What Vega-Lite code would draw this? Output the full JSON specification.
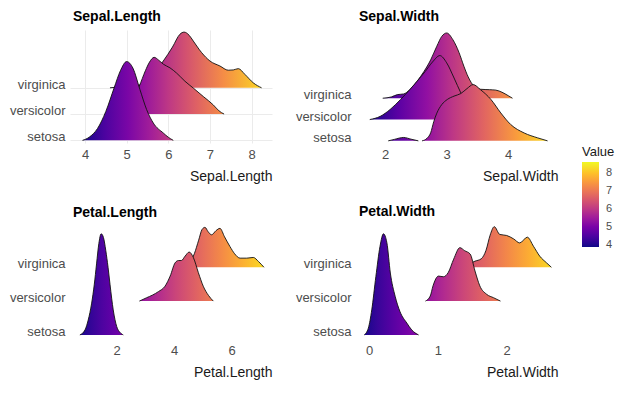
{
  "$schema": "https://vega.github.io/schema/vega-lite/v6.json",
  "background": "white",
  "padding": {"left": 9, "top": 10, "right": 5, "bottom": 5},
  "data": {"values": [
    {"v":"SL","s":"setosa","x":3.94,"y":1},{"v":"SL","s":"setosa","x":4.1,"y":1.12},{"v":"SL","s":"setosa","x":4.3,"y":1.45},{"v":"SL","s":"setosa","x":4.5,"y":2.1},{"v":"SL","s":"setosa","x":4.7,"y":3.0},{"v":"SL","s":"setosa","x":4.85,"y":3.65},{"v":"SL","s":"setosa","x":5.0,"y":4.0},{"v":"SL","s":"setosa","x":5.15,"y":3.75},{"v":"SL","s":"setosa","x":5.32,"y":2.93},{"v":"SL","s":"setosa","x":5.48,"y":2.17},{"v":"SL","s":"setosa","x":5.64,"y":1.66},{"v":"SL","s":"setosa","x":5.88,"y":1.28},{"v":"SL","s":"setosa","x":6.0,"y":1.12},{"v":"SL","s":"setosa","x":6.12,"y":1.0},
    {"v":"SL","s":"versicolor","x":4.7,"y":2},{"v":"SL","s":"versicolor","x":4.9,"y":2.15},{"v":"SL","s":"versicolor","x":5.1,"y":2.5},{"v":"SL","s":"versicolor","x":5.3,"y":3.05},{"v":"SL","s":"versicolor","x":5.45,"y":3.65},{"v":"SL","s":"versicolor","x":5.55,"y":3.98},{"v":"SL","s":"versicolor","x":5.66,"y":4.16},{"v":"SL","s":"versicolor","x":5.77,"y":4.05},{"v":"SL","s":"versicolor","x":5.88,"y":3.9},{"v":"SL","s":"versicolor","x":6.04,"y":3.76},{"v":"SL","s":"versicolor","x":6.2,"y":3.56},{"v":"SL","s":"versicolor","x":6.4,"y":3.25},{"v":"SL","s":"versicolor","x":6.6,"y":2.99},{"v":"SL","s":"versicolor","x":6.84,"y":2.67},{"v":"SL","s":"versicolor","x":7.08,"y":2.35},{"v":"SL","s":"versicolor","x":7.22,"y":2.12},{"v":"SL","s":"versicolor","x":7.34,"y":2.0},
    {"v":"SL","s":"virginica","x":4.6,"y":3},{"v":"SL","s":"virginica","x":4.8,"y":3.03},{"v":"SL","s":"virginica","x":4.95,"y":3.05},{"v":"SL","s":"virginica","x":5.15,"y":3.05},{"v":"SL","s":"virginica","x":5.3,"y":3.1},{"v":"SL","s":"virginica","x":5.5,"y":3.3},{"v":"SL","s":"virginica","x":5.7,"y":3.65},{"v":"SL","s":"virginica","x":5.88,"y":4.02},{"v":"SL","s":"virginica","x":6.1,"y":4.55},{"v":"SL","s":"virginica","x":6.28,"y":5.04},{"v":"SL","s":"virginica","x":6.38,"y":5.12},{"v":"SL","s":"virginica","x":6.5,"y":5.0},{"v":"SL","s":"virginica","x":6.6,"y":4.78},{"v":"SL","s":"virginica","x":6.8,"y":4.34},{"v":"SL","s":"virginica","x":7.0,"y":4.02},{"v":"SL","s":"virginica","x":7.24,"y":3.83},{"v":"SL","s":"virginica","x":7.44,"y":3.67},{"v":"SL","s":"virginica","x":7.56,"y":3.68},{"v":"SL","s":"virginica","x":7.68,"y":3.73},{"v":"SL","s":"virginica","x":7.84,"y":3.51},{"v":"SL","s":"virginica","x":8.04,"y":3.19},{"v":"SL","s":"virginica","x":8.24,"y":3.0},
    {"v":"SW","s":"virginica","x":1.96,"y":3},{"v":"SW","s":"virginica","x":2.1,"y":3.06},{"v":"SW","s":"virginica","x":2.2,"y":3.17},{"v":"SW","s":"virginica","x":2.3,"y":3.2},{"v":"SW","s":"virginica","x":2.4,"y":3.4},{"v":"SW","s":"virginica","x":2.52,"y":3.8},{"v":"SW","s":"virginica","x":2.63,"y":4.25},{"v":"SW","s":"virginica","x":2.74,"y":4.8},{"v":"SW","s":"virginica","x":2.84,"y":5.44},{"v":"SW","s":"virginica","x":2.92,"y":5.9},{"v":"SW","s":"virginica","x":3.0,"y":6.06},{"v":"SW","s":"virginica","x":3.1,"y":5.75},{"v":"SW","s":"virginica","x":3.2,"y":5.15},{"v":"SW","s":"virginica","x":3.28,"y":4.5},{"v":"SW","s":"virginica","x":3.35,"y":4.0},{"v":"SW","s":"virginica","x":3.45,"y":3.55},{"v":"SW","s":"virginica","x":3.55,"y":3.42},{"v":"SW","s":"virginica","x":3.7,"y":3.4},{"v":"SW","s":"virginica","x":3.8,"y":3.38},{"v":"SW","s":"virginica","x":3.9,"y":3.28},{"v":"SW","s":"virginica","x":4.0,"y":3.12},{"v":"SW","s":"virginica","x":4.07,"y":3.0},
    {"v":"SW","s":"versicolor","x":1.75,"y":2},{"v":"SW","s":"versicolor","x":1.92,"y":2.15},{"v":"SW","s":"versicolor","x":2.08,"y":2.47},{"v":"SW","s":"versicolor","x":2.25,"y":2.94},{"v":"SW","s":"versicolor","x":2.4,"y":3.4},{"v":"SW","s":"versicolor","x":2.52,"y":3.8},{"v":"SW","s":"versicolor","x":2.65,"y":4.25},{"v":"SW","s":"versicolor","x":2.77,"y":4.7},{"v":"SW","s":"versicolor","x":2.89,"y":5.0},{"v":"SW","s":"versicolor","x":3.0,"y":4.66},{"v":"SW","s":"versicolor","x":3.12,"y":3.95},{"v":"SW","s":"versicolor","x":3.23,"y":3.25},{"v":"SW","s":"versicolor","x":3.35,"y":2.6},{"v":"SW","s":"versicolor","x":3.45,"y":2.25},{"v":"SW","s":"versicolor","x":3.55,"y":2.05},{"v":"SW","s":"versicolor","x":3.62,"y":2.0},
    {"v":"SW","s":"setosa","x":2.05,"y":1},{"v":"SW","s":"setosa","x":2.15,"y":1.07},{"v":"SW","s":"setosa","x":2.3,"y":1.16},{"v":"SW","s":"setosa","x":2.42,"y":1.08},{"v":"SW","s":"setosa","x":2.54,"y":1.0},
    {"v":"SW","s":"setosa","x":2.6,"y":1},{"v":"SW","s":"setosa","x":2.68,"y":1.12},{"v":"SW","s":"setosa","x":2.74,"y":1.38},{"v":"SW","s":"setosa","x":2.79,"y":1.9},{"v":"SW","s":"setosa","x":2.84,"y":2.3},{"v":"SW","s":"setosa","x":2.92,"y":2.7},{"v":"SW","s":"setosa","x":3.01,"y":2.94},{"v":"SW","s":"setosa","x":3.12,"y":3.1},{"v":"SW","s":"setosa","x":3.23,"y":3.22},{"v":"SW","s":"setosa","x":3.33,"y":3.45},{"v":"SW","s":"setosa","x":3.43,"y":3.64},{"v":"SW","s":"setosa","x":3.55,"y":3.4},{"v":"SW","s":"setosa","x":3.72,"y":2.94},{"v":"SW","s":"setosa","x":3.88,"y":2.31},{"v":"SW","s":"setosa","x":4.04,"y":1.77},{"v":"SW","s":"setosa","x":4.26,"y":1.37},{"v":"SW","s":"setosa","x":4.48,"y":1.14},{"v":"SW","s":"setosa","x":4.64,"y":1.0},
    {"v":"PL","s":"setosa","x":0.72,"y":1},{"v":"PL","s":"setosa","x":0.9,"y":1.15},{"v":"PL","s":"setosa","x":1.01,"y":1.44},{"v":"PL","s":"setosa","x":1.13,"y":1.94},{"v":"PL","s":"setosa","x":1.22,"y":2.48},{"v":"PL","s":"setosa","x":1.3,"y":3.1},{"v":"PL","s":"setosa","x":1.38,"y":3.7},{"v":"PL","s":"setosa","x":1.46,"y":3.99},{"v":"PL","s":"setosa","x":1.54,"y":3.88},{"v":"PL","s":"setosa","x":1.62,"y":3.5},{"v":"PL","s":"setosa","x":1.7,"y":3.0},{"v":"PL","s":"setosa","x":1.77,"y":2.48},{"v":"PL","s":"setosa","x":1.88,"y":1.74},{"v":"PL","s":"setosa","x":2.0,"y":1.25},{"v":"PL","s":"setosa","x":2.12,"y":1.07},{"v":"PL","s":"setosa","x":2.23,"y":1.0},
    {"v":"PL","s":"versicolor","x":2.79,"y":2},{"v":"PL","s":"versicolor","x":3.04,"y":2.1},{"v":"PL","s":"versicolor","x":3.25,"y":2.18},{"v":"PL","s":"versicolor","x":3.45,"y":2.28},{"v":"PL","s":"versicolor","x":3.68,"y":2.44},{"v":"PL","s":"versicolor","x":3.86,"y":2.74},{"v":"PL","s":"versicolor","x":4.03,"y":3.13},{"v":"PL","s":"versicolor","x":4.15,"y":3.2},{"v":"PL","s":"versicolor","x":4.25,"y":3.2},{"v":"PL","s":"versicolor","x":4.38,"y":3.33},{"v":"PL","s":"versicolor","x":4.52,"y":3.45},{"v":"PL","s":"versicolor","x":4.67,"y":3.28},{"v":"PL","s":"versicolor","x":4.84,"y":2.84},{"v":"PL","s":"versicolor","x":5.01,"y":2.44},{"v":"PL","s":"versicolor","x":5.19,"y":2.17},{"v":"PL","s":"versicolor","x":5.36,"y":2.0},
    {"v":"PL","s":"virginica","x":4.3,"y":3},{"v":"PL","s":"virginica","x":4.5,"y":3.1},{"v":"PL","s":"virginica","x":4.7,"y":3.4},{"v":"PL","s":"virginica","x":4.85,"y":3.8},{"v":"PL","s":"virginica","x":4.97,"y":4.12},{"v":"PL","s":"virginica","x":5.07,"y":4.18},{"v":"PL","s":"virginica","x":5.18,"y":4.05},{"v":"PL","s":"virginica","x":5.3,"y":3.96},{"v":"PL","s":"virginica","x":5.45,"y":4.08},{"v":"PL","s":"virginica","x":5.59,"y":4.15},{"v":"PL","s":"virginica","x":5.75,"y":3.9},{"v":"PL","s":"virginica","x":5.94,"y":3.61},{"v":"PL","s":"virginica","x":6.1,"y":3.4},{"v":"PL","s":"virginica","x":6.29,"y":3.27},{"v":"PL","s":"virginica","x":6.52,"y":3.27},{"v":"PL","s":"virginica","x":6.75,"y":3.29},{"v":"PL","s":"virginica","x":6.93,"y":3.17},{"v":"PL","s":"virginica","x":7.12,"y":3.0},
    {"v":"PW","s":"setosa","x":-0.07,"y":1},{"v":"PW","s":"setosa","x":-0.01,"y":1.2},{"v":"PW","s":"setosa","x":0.04,"y":1.74},{"v":"PW","s":"setosa","x":0.1,"y":2.73},{"v":"PW","s":"setosa","x":0.16,"y":3.62},{"v":"PW","s":"setosa","x":0.21,"y":3.99},{"v":"PW","s":"setosa","x":0.26,"y":3.72},{"v":"PW","s":"setosa","x":0.31,"y":2.83},{"v":"PW","s":"setosa","x":0.38,"y":2.14},{"v":"PW","s":"setosa","x":0.45,"y":1.69},{"v":"PW","s":"setosa","x":0.55,"y":1.35},{"v":"PW","s":"setosa","x":0.62,"y":1.15},{"v":"PW","s":"setosa","x":0.72,"y":1.0},
    {"v":"PW","s":"versicolor","x":0.82,"y":2},{"v":"PW","s":"versicolor","x":0.89,"y":2.15},{"v":"PW","s":"versicolor","x":0.93,"y":2.45},{"v":"PW","s":"versicolor","x":1.01,"y":2.74},{"v":"PW","s":"versicolor","x":1.08,"y":2.72},{"v":"PW","s":"versicolor","x":1.15,"y":2.84},{"v":"PW","s":"versicolor","x":1.23,"y":3.24},{"v":"PW","s":"versicolor","x":1.32,"y":3.58},{"v":"PW","s":"versicolor","x":1.39,"y":3.49},{"v":"PW","s":"versicolor","x":1.47,"y":3.39},{"v":"PW","s":"versicolor","x":1.54,"y":2.89},{"v":"PW","s":"versicolor","x":1.61,"y":2.45},{"v":"PW","s":"versicolor","x":1.71,"y":2.2},{"v":"PW","s":"versicolor","x":1.81,"y":2.1},{"v":"PW","s":"versicolor","x":1.91,"y":2.0},
    {"v":"PW","s":"virginica","x":1.35,"y":3},{"v":"PW","s":"virginica","x":1.45,"y":3.1},{"v":"PW","s":"virginica","x":1.54,"y":3.18},{"v":"PW","s":"virginica","x":1.63,"y":3.25},{"v":"PW","s":"virginica","x":1.7,"y":3.5},{"v":"PW","s":"virginica","x":1.76,"y":3.95},{"v":"PW","s":"virginica","x":1.82,"y":4.2},{"v":"PW","s":"virginica","x":1.9,"y":3.97},{"v":"PW","s":"virginica","x":2.0,"y":3.94},{"v":"PW","s":"virginica","x":2.1,"y":3.84},{"v":"PW","s":"virginica","x":2.19,"y":3.72},{"v":"PW","s":"virginica","x":2.3,"y":3.89},{"v":"PW","s":"virginica","x":2.39,"y":3.62},{"v":"PW","s":"virginica","x":2.48,"y":3.33},{"v":"PW","s":"virginica","x":2.58,"y":3.13},{"v":"PW","s":"virginica","x":2.65,"y":3.0}
  ]},
  "columns": 2,
  "spacing": {"row": 20, "column": 23},
  "resolve": {"scale": {"color": "shared"}, "legend": {"color": "shared"}},
  "concat": [
    {
      "width": 202, "height": 113,
      "title": {"text": "Sepal.Length"},
      "encoding": {
        "x": {"field": "x", "type": "quantitative", "scale": {"domain": [3.64, 8.49], "nice": false, "zero": false}, "axis": {"values": [4,5,6,7,8], "title": "Sepal.Length", "grid": true}},
        "y": {"field": "y", "type": "quantitative", "scale": {"domain": [0.9, 5.2], "nice": false, "zero": false}, "axis": {"values": [1,2,3], "grid": true, "title": null, "labelExpr": "datum.value === 1 ? 'setosa' : datum.value === 2 ? 'versicolor' : 'virginica'"}}
      },
      "layer": [
        {"transform": [{"filter": "datum.v === 'SL' && datum.s === 'virginica'"}], "mark": {"type": "area", "interpolate": "monotone", "opacity": 1, "fillOpacity": 1, "fill": {"gradient": "linear", "x1": 0, "y1": 0, "x2": 1, "y2": 0, "stops": [{"offset": 0, "color": "rgb(87,2,163)"}, {"offset": 0.25, "color": "rgb(158,26,155)"}, {"offset": 0.5, "color": "rgb(211,81,112)"}, {"offset": 0.75, "color": "rgb(245,141,70)"}, {"offset": 1, "color": "rgb(250,213,36)"}]}, "line": {"color": "#111111", "strokeWidth": 0.9, "interpolate": "monotone", "opacity": 1}}, "encoding": {"y2": {"datum": 3}}},
        {"transform": [{"filter": "datum.v === 'SL' && datum.s === 'versicolor'"}], "mark": {"type": "area", "interpolate": "monotone", "opacity": 1, "fillOpacity": 1, "fill": {"gradient": "linear", "x1": 0, "y1": 0, "x2": 1, "y2": 0, "stops": [{"offset": 0, "color": "rgb(95,1,165)"}, {"offset": 0.25, "color": "rgb(147,17,161)"}, {"offset": 0.5, "color": "rgb(191,57,132)"}, {"offset": 0.75, "color": "rgb(223,97,100)"}, {"offset": 1, "color": "rgb(245,142,69)"}]}, "line": {"color": "#111111", "strokeWidth": 0.9, "interpolate": "monotone", "opacity": 1}}, "encoding": {"y2": {"datum": 2}}},
        {"transform": [{"filter": "datum.v === 'SL' && datum.s === 'setosa'"}], "mark": {"type": "area", "interpolate": "monotone", "opacity": 1, "fillOpacity": 1, "fill": {"gradient": "linear", "x1": 0, "y1": 0, "x2": 1, "y2": 0, "stops": [{"offset": 0, "color": "rgb(21,7,138)"}, {"offset": 0.25, "color": "rgb(77,3,160)"}, {"offset": 0.5, "color": "rgb(122,6,166)"}, {"offset": 0.75, "color": "rgb(162,30,153)"}, {"offset": 1, "color": "rgb(196,63,127)"}]}, "line": {"color": "#111111", "strokeWidth": 0.9, "interpolate": "monotone", "opacity": 1}}, "encoding": {"y2": {"datum": 1}}},
        {"transform": [{"filter": "datum.v === 'SL'"}], "mark": {"type": "point", "opacity": 1, "size": 0, "strokeWidth": 0, "filled": true}, "encoding": {"color": {"field": "x", "type": "quantitative", "scale": {"scheme": "plasma", "domain": [3.87, 8.64]}, "legend": {"title": "Value", "orient": "none", "legendX": 512, "legendY": 116, "direction": "vertical", "values": [4,5,6,7,8], "gradientLength": 85, "gradientThickness": 17, "titlePadding": 3, "labelOffset": 7, "titleFontSize": 13, "titleFontWeight": "normal", "titleColor": "#1a1a1a", "labelFontSize": 11, "labelColor": "#4d4d4d", "gradientStrokeWidth": 0}}}}
      ]
    },
    {
      "width": 202, "height": 113,
      "title": {"text": "Sepal.Width"},
      "encoding": {
        "x": {"field": "x", "type": "quantitative", "scale": {"domain": [1.526, 4.81], "nice": false, "zero": false}, "axis": {"values": [2,3,4], "title": "Sepal.Width"}},
        "y": {"field": "y", "type": "quantitative", "scale": {"domain": [0.9, 6.2], "nice": false, "zero": false}, "axis": {"values": [1,2,3], "title": null, "labelExpr": "datum.value === 1 ? 'setosa' : datum.value === 2 ? 'versicolor' : 'virginica'"}}
      },
      "layer": [
        {"transform": [{"filter": "datum.v === 'SW' && datum.s === 'virginica'"}], "mark": {"type": "area", "interpolate": "monotone", "opacity": 1, "fillOpacity": 1, "fill": {"gradient": "linear", "x1": 0, "y1": 0, "x2": 1, "y2": 0, "stops": [{"offset": 0, "color": "rgb(57,5,154)"}, {"offset": 0.25, "color": "rgb(125,7,166)"}, {"offset": 0.5, "color": "rgb(182,47,140)"}, {"offset": 0.75, "color": "rgb(221,95,102)"}, {"offset": 1, "color": "rgb(247,148,65)"}]}, "line": {"color": "#111111", "strokeWidth": 0.9, "interpolate": "monotone", "opacity": 1}}, "encoding": {"y2": {"datum": 3}}},
        {"transform": [{"filter": "datum.v === 'SW' && datum.s === 'versicolor'"}], "mark": {"type": "area", "interpolate": "monotone", "opacity": 1, "fillOpacity": 1, "fill": {"gradient": "linear", "x1": 0, "y1": 0, "x2": 1, "y2": 0, "stops": [{"offset": 0, "color": "rgb(23,7,139)"}, {"offset": 0.25, "color": "rgb(91,1,164)"}, {"offset": 0.5, "color": "rgb(146,16,162)"}, {"offset": 0.75, "color": "rgb(192,58,131)"}, {"offset": 1, "color": "rgb(225,100,98)"}]}, "line": {"color": "#111111", "strokeWidth": 0.9, "interpolate": "monotone", "opacity": 1}}, "encoding": {"y2": {"datum": 2}}},
        {"transform": [{"filter": "datum.v === 'SW' && datum.s === 'setosa' && datum.x < 2.57"}], "mark": {"type": "area", "interpolate": "monotone", "opacity": 1, "fillOpacity": 1, "fill": {"gradient": "linear", "x1": 0, "y1": 0, "x2": 1, "y2": 0, "stops": [{"offset": 0, "color": "rgb(70,4,158)"}, {"offset": 1, "color": "rgb(131,9,165)"}]}, "line": {"color": "#111111", "strokeWidth": 0.9, "interpolate": "monotone", "opacity": 1}}, "encoding": {"y2": {"datum": 1}}},
        {"transform": [{"filter": "datum.v === 'SW' && datum.s === 'setosa' && datum.x > 2.57"}], "mark": {"type": "area", "interpolate": "monotone", "opacity": 1, "fillOpacity": 1, "fill": {"gradient": "linear", "x1": 0, "y1": 0, "x2": 1, "y2": 0, "stops": [{"offset": 0, "color": "rgb(138,11,165)"}, {"offset": 0.25, "color": "rgb(190,56,133)"}, {"offset": 0.5, "color": "rgb(226,102,96)"}, {"offset": 0.75, "color": "rgb(249,155,61)"}, {"offset": 1, "color": "rgb(249,218,36)"}]}, "line": {"color": "#111111", "strokeWidth": 0.9, "interpolate": "monotone", "opacity": 1}}, "encoding": {"y2": {"datum": 1}}}
      ]
    },
    {
      "width": 202, "height": 113,
      "title": {"text": "Petal.Length"},
      "encoding": {
        "x": {"field": "x", "type": "quantitative", "scale": {"domain": [0.377, 7.4], "nice": false, "zero": false}, "axis": {"values": [2,4,6], "title": "Petal.Length"}},
        "y": {"field": "y", "type": "quantitative", "scale": {"domain": [0.88, 4.22], "nice": false, "zero": false}, "axis": {"values": [1,2,3], "title": null, "labelExpr": "datum.value === 1 ? 'setosa' : datum.value === 2 ? 'versicolor' : 'virginica'"}}
      },
      "layer": [
        {"transform": [{"filter": "datum.v === 'PL' && datum.s === 'virginica'"}], "mark": {"type": "area", "interpolate": "monotone", "opacity": 1, "fillOpacity": 1, "fill": {"gradient": "linear", "x1": 0, "y1": 0, "x2": 1, "y2": 0, "stops": [{"offset": 0, "color": "rgb(210,79,114)"}, {"offset": 0.25, "color": "rgb(230,109,92)"}, {"offset": 0.5, "color": "rgb(245,141,69)"}, {"offset": 0.75, "color": "rgb(252,177,49)"}, {"offset": 1, "color": "rgb(249,218,36)"}]}, "line": {"color": "#111111", "strokeWidth": 0.9, "interpolate": "monotone", "opacity": 1}}, "encoding": {"y2": {"datum": 3}}},
        {"transform": [{"filter": "datum.v === 'PL' && datum.s === 'versicolor'"}], "mark": {"type": "area", "interpolate": "monotone", "opacity": 1, "fillOpacity": 1, "fill": {"gradient": "linear", "x1": 0, "y1": 0, "x2": 1, "y2": 0, "stops": [{"offset": 0, "color": "rgb(147,17,162)"}, {"offset": 0.25, "color": "rgb(178,43,143)"}, {"offset": 0.5, "color": "rgb(203,70,121)"}, {"offset": 0.75, "color": "rgb(222,96,101)"}, {"offset": 1, "color": "rgb(238,125,80)"}]}, "line": {"color": "#111111", "strokeWidth": 0.9, "interpolate": "monotone", "opacity": 1}}, "encoding": {"y2": {"datum": 2}}},
        {"transform": [{"filter": "datum.v === 'PL' && datum.s === 'setosa'"}], "mark": {"type": "area", "interpolate": "monotone", "opacity": 1, "fillOpacity": 1, "fill": {"gradient": "linear", "x1": 0, "y1": 0, "x2": 1, "y2": 0, "stops": [{"offset": 0, "color": "rgb(23,7,139)"}, {"offset": 0.25, "color": "rgb(51,5,151)"}, {"offset": 0.5, "color": "rgb(76,3,160)"}, {"offset": 0.75, "color": "rgb(97,1,166)"}, {"offset": 1, "color": "rgb(118,4,167)"}]}, "line": {"color": "#111111", "strokeWidth": 0.9, "interpolate": "monotone", "opacity": 1}}, "encoding": {"y2": {"datum": 1}}}
      ]
    },
    {
      "width": 202, "height": 113,
      "title": {"text": "Petal.Width"},
      "encoding": {
        "x": {"field": "x", "type": "quantitative", "scale": {"domain": [-0.189, 2.746], "nice": false, "zero": false}, "axis": {"values": [0,1,2], "title": "Petal.Width"}},
        "y": {"field": "y", "type": "quantitative", "scale": {"domain": [0.88, 4.22], "nice": false, "zero": false}, "axis": {"values": [1,2,3], "title": null, "labelExpr": "datum.value === 1 ? 'setosa' : datum.value === 2 ? 'versicolor' : 'virginica'"}}
      },
      "layer": [
        {"transform": [{"filter": "datum.v === 'PW' && datum.s === 'virginica'"}], "mark": {"type": "area", "interpolate": "monotone", "opacity": 1, "fillOpacity": 1, "fill": {"gradient": "linear", "x1": 0, "y1": 0, "x2": 1, "y2": 0, "stops": [{"offset": 0, "color": "rgb(203,70,121)"}, {"offset": 0.25, "color": "rgb(225,100,98)"}, {"offset": 0.5, "color": "rgb(243,135,73)"}, {"offset": 0.75, "color": "rgb(252,173,51)"}, {"offset": 1, "color": "rgb(249,217,36)"}]}, "line": {"color": "#111111", "strokeWidth": 0.9, "interpolate": "monotone", "opacity": 1}}, "encoding": {"y2": {"datum": 3}}},
        {"transform": [{"filter": "datum.v === 'PW' && datum.s === 'versicolor'"}], "mark": {"type": "area", "interpolate": "monotone", "opacity": 1, "fillOpacity": 1, "fill": {"gradient": "linear", "x1": 0, "y1": 0, "x2": 1, "y2": 0, "stops": [{"offset": 0, "color": "rgb(148,17,161)"}, {"offset": 0.25, "color": "rgb(178,43,143)"}, {"offset": 0.5, "color": "rgb(203,70,121)"}, {"offset": 0.75, "color": "rgb(222,96,101)"}, {"offset": 1, "color": "rgb(238,125,80)"}]}, "line": {"color": "#111111", "strokeWidth": 0.9, "interpolate": "monotone", "opacity": 1}}, "encoding": {"y2": {"datum": 2}}},
        {"transform": [{"filter": "datum.v === 'PW' && datum.s === 'setosa'"}], "mark": {"type": "area", "interpolate": "monotone", "opacity": 1, "fillOpacity": 1, "fill": {"gradient": "linear", "x1": 0, "y1": 0, "x2": 1, "y2": 0, "stops": [{"offset": 0, "color": "rgb(22,7,139)"}, {"offset": 0.25, "color": "rgb(56,5,153)"}, {"offset": 0.5, "color": "rgb(85,2,162)"}, {"offset": 0.75, "color": "rgb(112,2,167)"}, {"offset": 1, "color": "rgb(136,11,165)"}]}, "line": {"color": "#111111", "strokeWidth": 0.9, "interpolate": "monotone", "opacity": 1}}, "encoding": {"y2": {"datum": 1}}}
      ]
    }
  ],
  "config": {
    "font": "Liberation Sans",
    "view": {"stroke": null},
    "axis": {"domain": false, "ticks": false, "tickSize": 0, "grid": false, "labelFontSize": 13, "labelColor": "#4d4d4d", "titleFontSize": 14, "titleFontWeight": "normal", "titleColor": "#1a1a1a", "gridColor": "#ebebeb", "gridWidth": 1},
    "axisX": {"labelPadding": 5.5, "titleAnchor": "end", "titlePadding": 8},
    "axisY": {"labelPadding": 5, "labelOffset": -3.5},
    "title": {"anchor": "start", "frame": "group", "fontSize": 14, "fontWeight": "bold", "color": "#000000", "offset": 6, "dx": 3}
  }
}
